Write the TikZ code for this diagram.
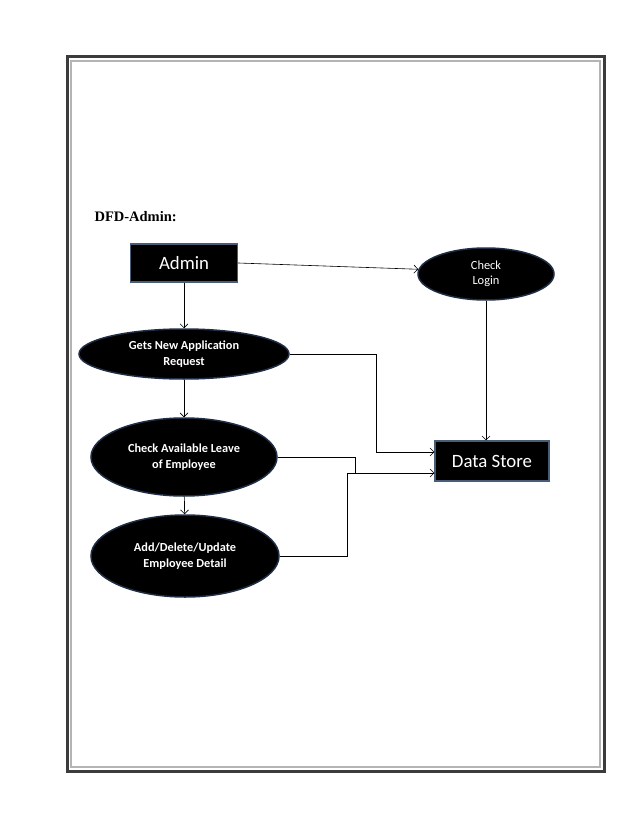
\documentclass[tikz,border=0pt]{standalone}
\usepackage{fontspec}
\setmainfont{Liberation Serif}
\newfontfamily\calibri{Carlito}
\usetikzlibrary{arrows.meta, shapes.geometric}
\definecolor{rimnavy}{HTML}{1F2E45}
\definecolor{rimslate}{HTML}{4A5D78}
\definecolor{framedark}{HTML}{3C3C3C}
\definecolor{framepale}{HTML}{B4B4B4}

\begin{document}
\begin{tikzpicture}[x=1pt, y=-1pt,
  procbox/.style={draw=rimslate, fill=black, line width=1.2pt, text=white,
    minimum width=107pt, minimum height=38pt, inner sep=0pt,
    font=\calibri\fontsize{18.8}{20}\selectfont},
  procell/.style={ellipse, draw=rimnavy, fill=black, line width=1.5pt,
    text=white, align=center, inner sep=0pt,
    font=\calibri\bfseries\fontsize{12.3}{16}\selectfont},
  flow/.style={-{Straight Barb[length=4pt, width=8pt]}, line width=0.6pt}]
  \useasboundingbox (0,0) rectangle (638,826);
  % page frame
  \draw[framedark, line width=3pt] (67,57) rectangle (604,771);
  \draw[framepale, line width=2pt] (71,61) rectangle (600,767);

  \node[anchor=west, font=\bfseries\fontsize{14.5}{16}\selectfont] (title) at (91,217) {DFD-Admin:};

  \node[procbox] (admin) at (184,263) {Admin};
  \node[procell, minimum width=136pt, minimum height=52pt,
    font=\calibri\fontsize{12.4}{15}\selectfont] (login) at (486,274) {Check\\Login};
  \node[procell, minimum width=210pt, minimum height=50pt] (getreq) at (184,354)
    {Gets New Application\\Request};
  \node[procell, minimum width=186pt, minimum height=78pt] (chkleave) at (184,457)
    {Check Available Leave\\of Employee};
  \node[procell, minimum width=188pt, minimum height=82pt] (upd) at (185,556)
    {Add/Delete/Update\\Employee Detail};
  \node[procbox, minimum width=114pt, minimum height=40pt] (store) at (492,461) {Data Store};

  % bends of the lines into the store
  \coordinate (bendA) at (376,0);
  \coordinate (joinB) at (355,474);
  \coordinate (bendC) at (347,0);

  \draw[flow] (admin.east) -- (login.176);
  \draw[flow] (admin) -- (getreq);
  \draw[flow] (getreq) -- (chkleave);
  \draw[flow] (chkleave) -- (upd);
  \draw[flow] (login.south) -- (login.south |- store.north);
  \draw[flow] (getreq.east) -- (getreq.east -| bendA) |- ([yshift=9pt]store.west);
  \draw[line width=0.6pt] (chkleave.east) -| (joinB);
  \draw[flow] (upd.east) -- (upd.east -| bendC) |- ([yshift=-12pt]store.west);
\end{tikzpicture}
\end{document}
